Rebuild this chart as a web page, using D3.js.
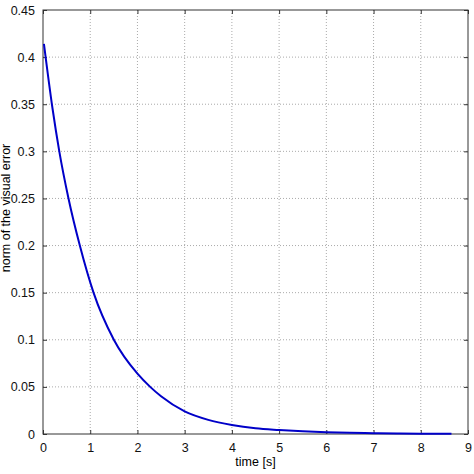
<!DOCTYPE html>
<html>
<head>
<meta charset="utf-8">
<script src="https://cdn.jsdelivr.net/npm/d3@7"></script>
<style>
  body { margin: 0; background: #fff; }
  text { font-family: "Liberation Sans", Arial, sans-serif; }
</style>
</head>
<body>
<div id="chart"></div>
<script>
// values
var timeValues  = [0.02, 0.2, 0.345, 0.54, 0.78, 1.07, 1.5, 2.0, 2.27, 2.5, 3.0, 3.5, 4.0, 4.5, 5.0, 5.5, 6.0, 6.5, 7.0, 7.5, 8.0, 8.65];
var errorValues = [0.414, 0.346, 0.30, 0.25, 0.20, 0.15, 0.10, 0.064, 0.05, 0.040, 0.024, 0.015, 0.0095, 0.006, 0.0042, 0.0028, 0.0018, 0.0012, 0.0008, 0.0005, 0.0003, 0.0002];
var xTicks = [0, 1, 2, 3, 4, 5, 6, 7, 8, 9];
var yTicks = [0, 0.05, 0.1, 0.15, 0.2, 0.25, 0.3, 0.35, 0.4, 0.45];

var margin = {top: 10, right: 6, bottom: 40, left: 43},
    width  = 474 - margin.left - margin.right,
    height = 474 - margin.top - margin.bottom;

var svg = d3.select("#chart")
  .append("svg")
    .attr("width", 474)
    .attr("height", 474)
  .append("g")
    .attr("transform", "translate(" + margin.left + "," + margin.top + ")");

var x = d3.scaleLinear().domain([0, 9]).range([0, width]);
var y = d3.scaleLinear().domain([0, 0.45]).range([height, 0]);

// dotted grid
svg.append("g").selectAll("line.vg")
  .data(xTicks.slice(1, -1))
  .enter().append("line")
    .attr("x1", function(d) { return x(d); })
    .attr("x2", function(d) { return x(d); })
    .attr("y1", 0).attr("y2", height)
    .style("stroke", "#aaa").style("stroke-dasharray", "1,2");

svg.append("g").selectAll("line.hg")
  .data(yTicks.slice(1, -1))
  .enter().append("line")
    .attr("y1", function(d) { return y(d); })
    .attr("y2", function(d) { return y(d); })
    .attr("x1", 0).attr("x2", width)
    .style("stroke", "#aaa").style("stroke-dasharray", "1,2");

// axes, ticks pointing inward like matlab
var fmt = function(d) { return String(+d.toFixed(2)); };
var axisColor = "#333";

function styleAxis(g, hideText) {
  g.select(".domain").remove();
  g.selectAll("line").style("stroke", axisColor);
  g.selectAll("text")
    .style("font-size", "12.5px")
    .style("fill", "#111")
    .style("display", hideText ? "none" : null);
}

svg.append("g")
  .attr("transform", "translate(0," + height + ")")
  .call(d3.axisBottom(x).tickValues(xTicks).tickSizeInner(-4).tickPadding(9).tickFormat(fmt))
  .call(function(g) { styleAxis(g, false); });

svg.append("g")
  .call(d3.axisTop(x).tickValues(xTicks).tickSizeInner(-4))
  .call(function(g) { styleAxis(g, true); });

svg.append("g")
  .call(d3.axisLeft(y).tickValues(yTicks).tickSizeInner(-4).tickPadding(8).tickFormat(fmt))
  .call(function(g) { styleAxis(g, false); });

svg.append("g")
  .attr("transform", "translate(" + width + ",0)")
  .call(d3.axisRight(y).tickValues(yTicks).tickSizeInner(-4))
  .call(function(g) { styleAxis(g, true); });

// frame
svg.append("rect")
  .attr("width", width).attr("height", height)
  .style("fill", "none").style("stroke", axisColor).style("stroke-width", 1);

// curve
var points = timeValues.map(function(t, i) { return [t, errorValues[i]]; });
var line = d3.line()
  .x(function(d) { return x(d[0]); })
  .y(function(d) { return y(d[1]); })
  .curve(d3.curveMonotoneX);

svg.append("path")
  .datum(points)
  .attr("d", line)
  .style("fill", "none")
  .style("stroke", "#0000c8")
  .style("stroke-width", 2);

// axis titles
svg.append("text")
  .attr("x", width / 2)
  .attr("y", height + 32)
  .attr("text-anchor", "middle")
  .style("font-size", "12.5px")
  .text("time [s]");

svg.append("text")
  .attr("transform", "rotate(-90)")
  .attr("x", -(208 - margin.top))
  .attr("y", -margin.left + 10)
  .attr("text-anchor", "middle")
  .style("font-size", "12.5px")
  .text("norm of the visual error");
</script>
</body>
</html>
